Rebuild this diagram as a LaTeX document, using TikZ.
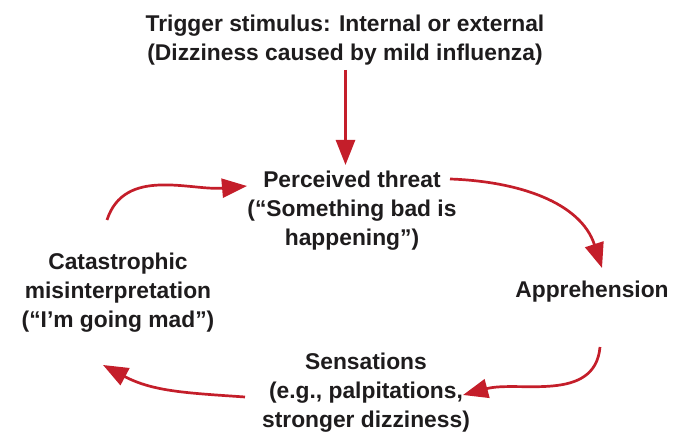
\documentclass[tikz,border=0pt]{standalone}
\usepackage{fontspec}
\setmainfont{Liberation Sans}
\usetikzlibrary{arrows.meta}
\definecolor{arrred}{HTML}{C41E2A}
\definecolor{txt}{HTML}{1E1C1D}
\tikzset{
  lbl/.style={align=center, inner sep=0pt, text=txt, font=\fontsize{22.8}{29}\selectfont\bfseries},
  arr/.style={draw=arrred, line width=2.7pt, -{Triangle[length=25pt,width=19pt]}}
}
\begin{document}
\begin{tikzpicture}[x=1pt,y=1pt]
\useasboundingbox (0,0) rectangle (685,441);
\node[lbl] (trig) at (345,401) {Trigger stimulus: Internal or external\\(Dizziness caused by mild influenza)};
\node[lbl] (threat) at (352,230) {Perceived threat\\(“Something bad is\\happening”)};
\node[lbl] (appr) at (592,149) {Apprehension};
\node[lbl] (cat) at (118,148) {Catastrophic\\misinterpretation\\(“I’m going mad”)};
\node[lbl] (sens) at (366,48) {Sensations\\(e.g., palpitations,\\stronger dizziness)};
\draw[arr] ([shift={(0.5,-30)}]trig.center) -- ([shift={(-6.5,46)}]threat.center);
\draw[arr] ([shift={(98,32)}]threat.center) to[out=-2,in=108] ([shift={(10,24)}]appr.center);
\draw[arr] ([shift={(8,-55)}]appr.center) to[out=-95,in=15] ([shift={(97,-2)}]sens.center);
\draw[arr] ([shift={(-121,-4)}]sens.center) to[out=176,in=-28] ([shift={(-15,-72)}]cat.center);
\draw[arr] ([shift={(-11,73)}]cat.center) to[out=72,in=185] ([shift={(-105,25)}]threat.center);
\end{tikzpicture}
\end{document}
